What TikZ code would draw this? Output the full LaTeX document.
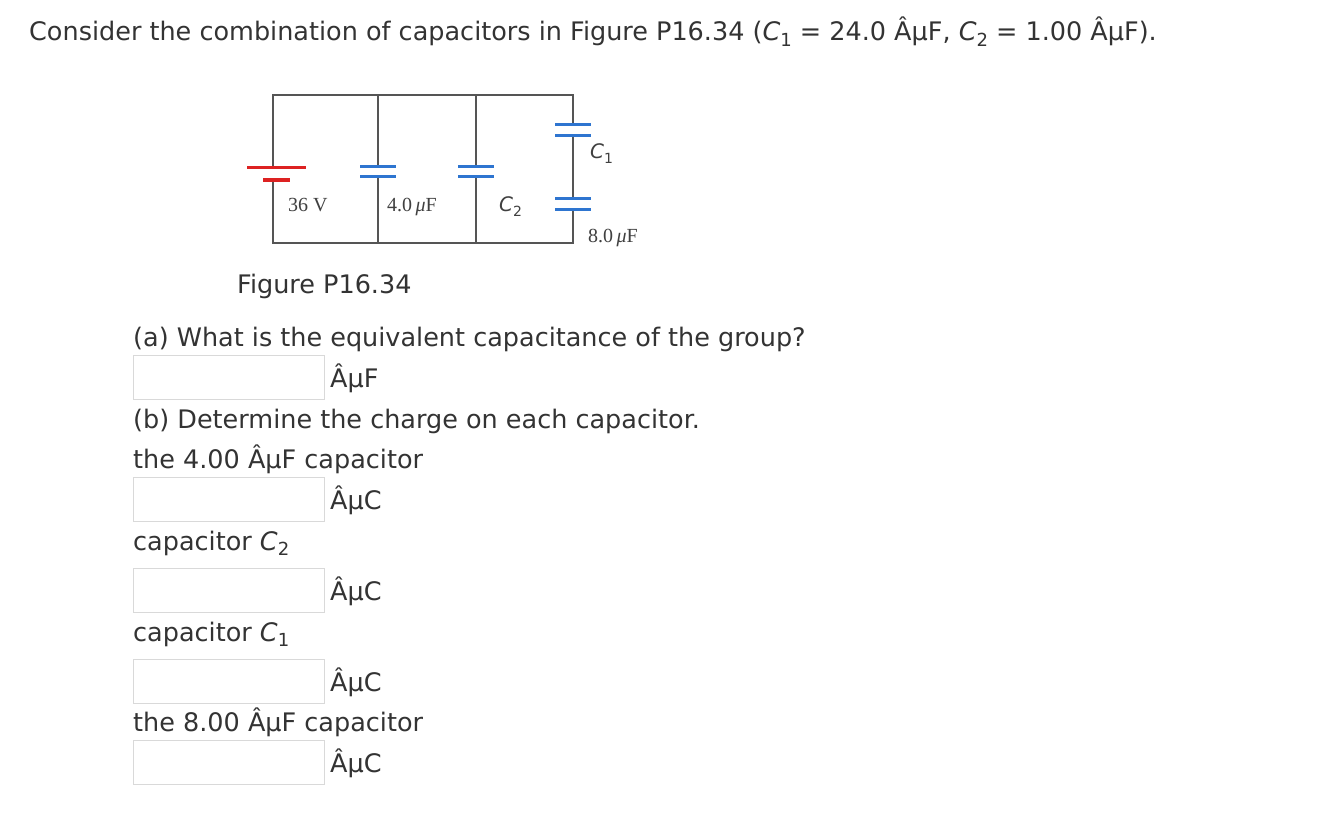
\documentclass[tikz,border=0pt]{standalone}
\usepackage{fontspec}
\setmainfont{DejaVu Sans}
\newfontfamily\circfont{Liberation Serif}
\definecolor{txt}{HTML}{333333}
\definecolor{capblue}{HTML}{2E75D0}
\definecolor{batred}{HTML}{DD2222}
\definecolor{wire}{HTML}{555555}
\newcommand{\sub}[1]{\raisebox{-0.4ex}{\fontsize{18}{18}\selectfont #1}}
\newcommand{\Cs}[1]{\textit{C}\sub{#1}}
\begin{document}
\begin{tikzpicture}[x=1pt,y=-1pt,
  t/.style={anchor=base west,inner sep=0pt,text=txt,font=\fontsize{25.5}{25.5}\selectfont},
  cl/.style={anchor=base west,inner sep=0pt,text=black!75,font=\circfont\fontsize{20}{20}\selectfont},
  box/.style={draw=black!15,fill=white,minimum width=191pt,minimum height=44pt,anchor=north west,inner sep=0pt},
  plate/.style={draw=capblue,line width=3pt},
  w/.style={draw=wire,line width=1.4pt}]
\useasboundingbox (0,0) rectangle (1332,818);
\fill[white] (0,0) rectangle (1332,818);
% circuit
\coordinate (tl) at (273,95); \coordinate (tr) at (573,95);
\coordinate (bl) at (273,243); \coordinate (br) at (573,243);
\draw[w] (tl) -- (tr) -- (br) -- (bl) -- cycle;
\draw[w] (378,95) -- (378,167) (378,177) -- (378,243);
\draw[w] (476,95) -- (476,167) (476,177) -- (476,243);
\draw[white,line width=3pt] (573,125) -- (573,136) (573,199) -- (573,210) (273,168) -- (273,180);
\draw[plate] (360,167) -- (396,167) (360,177) -- (396,177);
\draw[plate] (458,167) -- (494,167) (458,177) -- (494,177);
\draw[plate] (555,125) -- (591,125) (555,136) -- (591,136);
\draw[plate] (555,199) -- (591,199) (555,210) -- (591,210);
\draw[batred,line width=3pt] (247,168) -- (306,168);
\draw[batred,line width=3.5pt] (263,180) -- (290,180);
\node[cl] (v) at (288,212) {36 V};
\node[cl] (c4) at (387,212) {4.0\,\textit{μ}F};
\node[cl,font=\fontsize{20}{20}\selectfont] (c2) at (499,212) {\textit{C}\raisebox{-0.4ex}{\fontsize{14}{14}\selectfont 2}};
\node[cl,font=\fontsize{20}{20}\selectfont] (c1) at (590,159) {\textit{C}\raisebox{-0.4ex}{\fontsize{14}{14}\selectfont 1}};
\node[cl] (c8) at (588,243) {8.0\,\textit{μ}F};
% text
\node[t] (title) at (29,41) {Consider the combination of capacitors in Figure P16.34 (\Cs{1} = 24.0 ÂµF, \Cs{2} = 1.00 ÂµF).};
\node[t] (fig) at (237,293) {Figure P16.34};
\node[t] (qa) at (133,346) {(a) What is the equivalent capacitance of the group?};
\node[box] (b1) at (133,355) {};
\node[t] (u1) at (330,387) {ÂµF};
\node[t] (qb) at (133,428) {(b) Determine the charge on each capacitor.};
\node[t] (l1) at (133,468) {the 4.00 ÂµF capacitor};
\node[box] (b2) at (133,477) {};
\node[t] (u2) at (330,509) {ÂµC};
\node[t] (l2) at (133,550) {capacitor \Cs{2}};
\node[box] (b3) at (133,568) {};
\node[t] (u3) at (330,600) {ÂµC};
\node[t] (l3) at (133,641) {capacitor \Cs{1}};
\node[box] (b4) at (133,659) {};
\node[t] (u4) at (330,691) {ÂµC};
\node[t] (l4) at (133,731) {the 8.00 ÂµF capacitor};
\node[box] (b5) at (133,740) {};
\node[t] (u5) at (330,772) {ÂµC};
\end{tikzpicture}
\end{document}
